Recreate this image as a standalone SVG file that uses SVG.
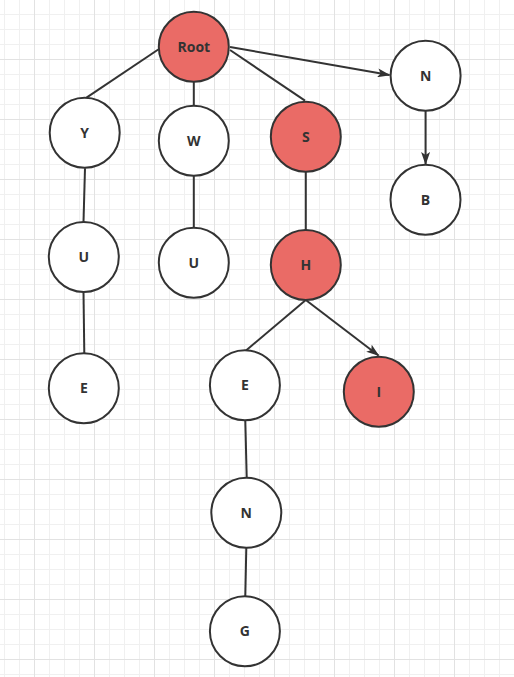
<svg xmlns="http://www.w3.org/2000/svg" width="514" height="677" viewBox="0 0 514 677">
<style>
.node circle{stroke:#333333;stroke-width:2}
.plain circle{fill:#ffffff}
.hot circle{fill:#EA6B66}
.node text{font-family:"Open Sans","Liberation Sans",sans-serif;font-weight:bold;font-size:14px;fill:#333333;text-anchor:middle}
.edge{stroke:#333333;stroke-width:2;fill:none}
</style>
<defs>
<pattern id="grid" patternUnits="userSpaceOnUse" x="4" y="-1" width="60" height="60">
<rect x="0" y="0" width="60" height="60" fill="#ffffff"/>
<rect x="0" y="0" width="1" height="60" fill="#f0f0f0"/>
<rect x="15" y="0" width="1" height="60" fill="#f0f0f0"/>
<rect x="45" y="0" width="1" height="60" fill="#f0f0f0"/>
<rect x="0" y="15" width="60" height="1" fill="#f0f0f0"/>
<rect x="0" y="30" width="60" height="1" fill="#f0f0f0"/>
<rect x="0" y="45" width="60" height="1" fill="#f0f0f0"/>
<rect x="30" y="0" width="1" height="60" fill="#e2e2e2"/>
<rect x="0" y="0" width="60" height="1" fill="#e2e2e2"/>
</pattern>
<marker id="arrow" viewBox="0 0 13 9" refX="12" refY="4.5" markerWidth="13" markerHeight="9" markerUnits="userSpaceOnUse" orient="auto">
<path d="M0,0 L13,4.5 L0,9 L3,4.5 Z" fill="#333333"/>
</marker>
</defs>
<rect x="0" y="0" width="514" height="677" fill="url(#grid)"/>
<g id="connectors">
<line class="edge" x1="159" y1="49" x2="86.5" y2="97.7"/>
<line class="edge" x1="193.8" y1="81.7" x2="193.8" y2="105.7"/>
<line class="edge" x1="230" y1="50" x2="305" y2="100.7"/>
<line class="edge" x1="230" y1="47" x2="389.5" y2="75" marker-end="url(#arrow)"/>
<line class="edge" x1="425.6" y1="110.7" x2="425.6" y2="164" marker-end="url(#arrow)"/>
<line class="edge" x1="85" y1="168.3" x2="83.5" y2="221.7"/>
<line class="edge" x1="83.5" y1="292.3" x2="84.3" y2="353.3"/>
<line class="edge" x1="193.8" y1="176" x2="193.8" y2="227.3"/>
<line class="edge" x1="305.8" y1="172" x2="305.8" y2="230"/>
<line class="edge" x1="305.8" y1="300" x2="246" y2="350.5"/>
<line class="edge" x1="305.8" y1="300" x2="378.5" y2="355.5" marker-end="url(#arrow)"/>
<line class="edge" x1="245.3" y1="420.7" x2="246.7" y2="477.3"/>
<line class="edge" x1="246.3" y1="548" x2="245.3" y2="596"/>
</g>
<g id="node-root" class="node hot"><circle cx="193.8" cy="46.7" r="35"/><text x="193.8" y="51.7">Root</text></g>
<g id="node-y" class="node plain"><circle cx="84.7" cy="132.8" r="35"/><text x="84.7" y="137.8">Y</text></g>
<g id="node-w" class="node plain"><circle cx="193.8" cy="140.8" r="35"/><text x="193.8" y="145.8">W</text></g>
<g id="node-s" class="node hot"><circle cx="305.8" cy="136.8" r="35"/><text x="305.8" y="141.8">S</text></g>
<g id="node-n1" class="node plain"><circle cx="425.6" cy="75.7" r="35"/><text x="425.6" y="80.7">N</text></g>
<g id="node-b" class="node plain"><circle cx="425.5" cy="199.8" r="35"/><text x="425.5" y="204.8">B</text></g>
<g id="node-u1" class="node plain"><circle cx="83.8" cy="257" r="35"/><text x="83.8" y="262">U</text></g>
<g id="node-u2" class="node plain"><circle cx="193.8" cy="262.7" r="35"/><text x="193.8" y="267.7">U</text></g>
<g id="node-h" class="node hot"><circle cx="305.8" cy="265" r="35"/><text x="305.8" y="270">H</text></g>
<g id="node-e1" class="node plain"><circle cx="83.8" cy="388.3" r="35"/><text x="83.8" y="393.3">E</text></g>
<g id="node-e2" class="node plain"><circle cx="244.9" cy="385.3" r="35"/><text x="244.9" y="390.3">E</text></g>
<g id="node-i" class="node hot"><circle cx="378.8" cy="391.7" r="35"/><text x="378.8" y="396.7">I</text></g>
<g id="node-n2" class="node plain"><circle cx="246.3" cy="512.7" r="35"/><text x="246.3" y="517.7">N</text></g>
<g id="node-g" class="node plain"><circle cx="244.9" cy="631.3" r="35"/><text x="244.9" y="636.3">G</text></g>
</svg>
